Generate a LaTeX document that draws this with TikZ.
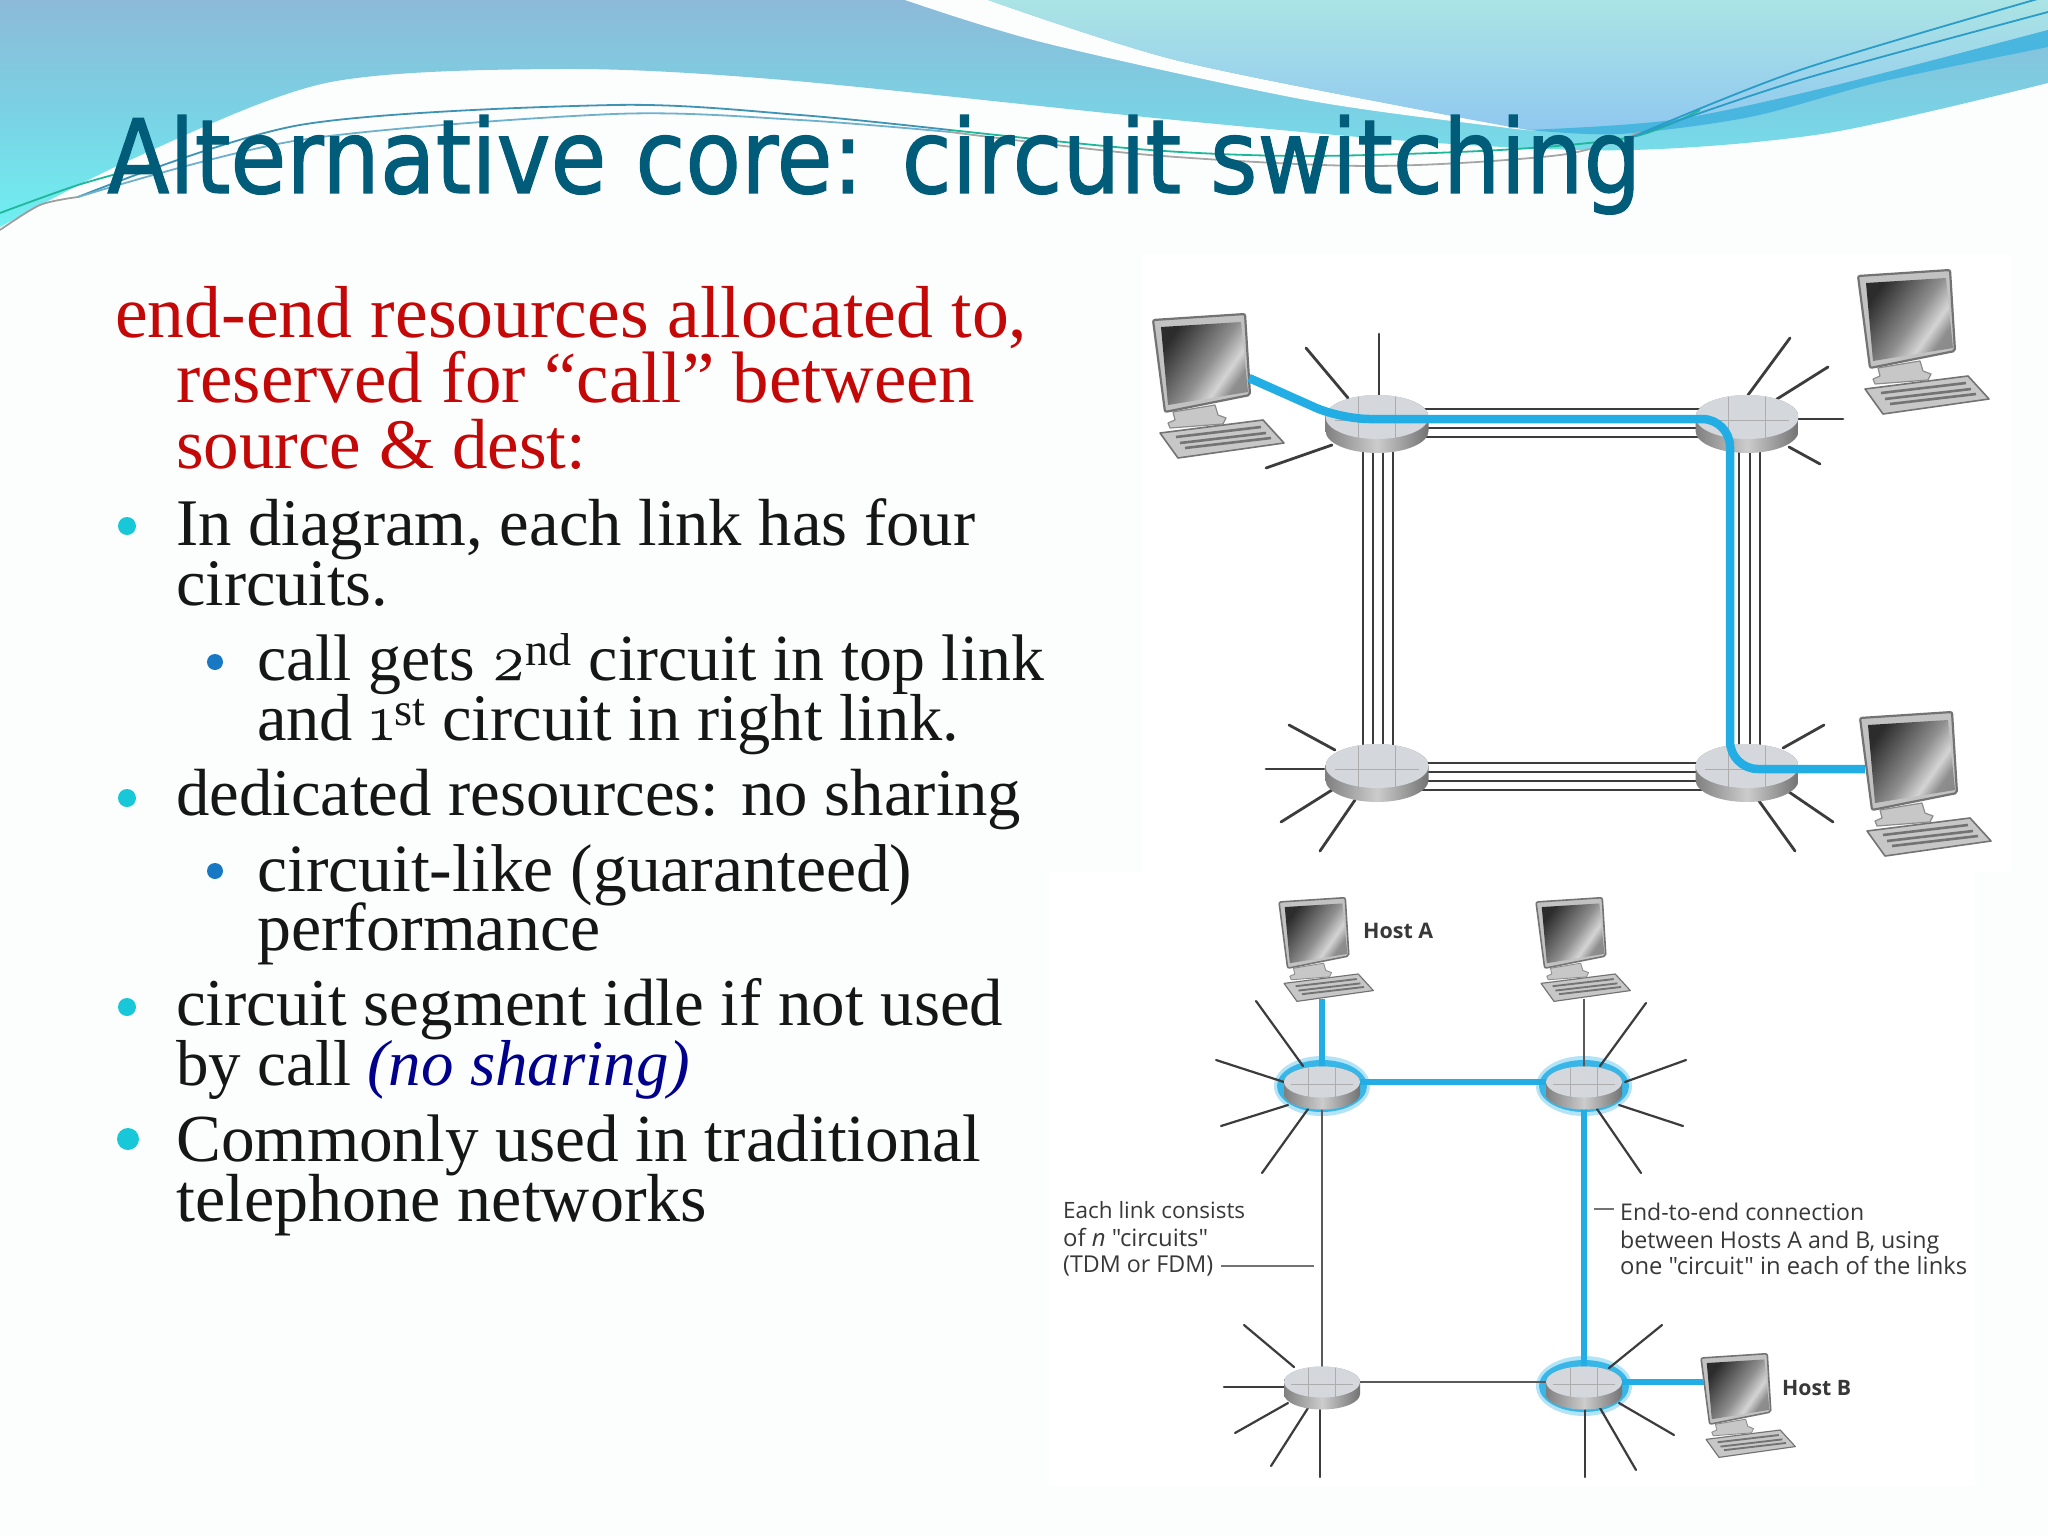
\documentclass[tikz,border=0pt]{standalone}
\usepackage{graphicx}
\usepackage{fontspec}
\setmainfont{Liberation Serif}
\newfontfamily\titlefont[FakeBold=1.2]{DejaVu Sans}
\newfontfamily\labelfont{Open Sans}
\newfontfamily\osf[Numbers=OldStyle,FakeBold=0.5]{Latin Modern Roman}
\definecolor{pagebg}{HTML}{FCFDFD}
\definecolor{waveA}{HTML}{8CBAD8}
\definecolor{waveB}{HTML}{7AD2E4}
\definecolor{waveC}{HTML}{6FF0F2}
\definecolor{paleA}{HTML}{ABE4E4}
\definecolor{paleB}{HTML}{90C8F0}
\definecolor{bandc}{HTML}{48B6DE}
\definecolor{titlec}{HTML}{005C78}
\definecolor{redc}{HTML}{C40808}
\definecolor{bodyc}{HTML}{161616}
\definecolor{bluei}{HTML}{00008C}
\definecolor{bulA}{HTML}{18C8D8}
\definecolor{bulB}{HTML}{1878C4}
\definecolor{netblue}{HTML}{22AEE4}
\definecolor{wirec}{HTML}{3C3C3C}
\definecolor{lineA}{HTML}{3F93B5}
\definecolor{lineB}{HTML}{6FB0CC}
\definecolor{lineG}{HTML}{1DB89A}
\definecolor{lineT}{HTML}{2A9CC8}
\definecolor{facec}{HTML}{D4D8DD}
\definecolor{s1}{HTML}{2C2C2C}
\definecolor{s2}{HTML}{8E8E8E}
\definecolor{s3}{HTML}{D4D4D4}
\definecolor{s4}{HTML}{7C7C7C}
\pgfdeclarehorizontalshading{screenshade}{100bp}{color(0bp)=(s1); color(25bp)=(s1); color(52bp)=(s2); color(64bp)=(s3); color(72bp)=(s2); color(100bp)=(s4)}
\tikzset{
  txt/.style={anchor=base west,inner sep=0pt,font=\fontsize{40}{48}\selectfont},
  lbl/.style={anchor=base west,inner sep=0pt,text=black!78,font=\labelfont\fontsize{20}{24}\selectfont},
  bulletA/.style={circle,fill=bulA,inner sep=0pt,minimum size=18pt},
  bulletB/.style={circle,fill=bulB,inner sep=0pt,minimum size=16pt},
  routerbig/.style={inner sep=0pt,minimum width=103pt,minimum height=44pt},
  routersmall/.style={inner sep=0pt,minimum width=76pt,minimum height=30pt},
  wire/.style={draw=wirec,line width=2.8pt},
  spoke/.style={draw=wirec,line width=2.8pt,line cap=round},
  thinwire/.style={draw=black!65,line width=2.4pt},
  bluewire/.style={draw=netblue,line width=8.5pt,rounded corners=28pt},
  bluelink/.style={draw=netblue,line width=5.5pt},
  leader/.style={draw=black!55,line width=1.3pt},
}
\newcommand{\routerart}[4]{%
  \begin{scope}[shift={(#1)},x=1pt,y=1pt]
    \shade[left color=black!50,right color=black!55,middle color=black!20]
      (-#2,0) -- (-#2,-#4) arc[start angle=180,end angle=360,x radius=#2,y radius=#3]
      -- (#2,0) arc[start angle=0,end angle=180,x radius=#2,y radius=#3] -- cycle;
    \fill[facec] (0,0) ellipse[x radius=#2,y radius=#3];
    \draw[black!32,line width=1pt] (-#2*0.35,-#3*0.92-#4*0.6) -- (-#2*0.35,#3*0.92);
    \draw[black!32,line width=1pt] (#2*0.35,-#3*0.92-#4*0.6) -- (#2*0.35,#3*0.92);
    \draw[black!32,line width=1pt] (-#2*0.82,-#3*0.15) -- (#2*0.82,-#3*0.15);
  \end{scope}}
\newcommand{\halo}[1]{%
  \begin{scope}[shift={(#1)},x=1pt,y=1pt]
    \fill[netblue!35] (0,-4) ellipse[x radius=48,y radius=30];
    \fill[netblue!90] (0,-4) ellipse[x radius=45,y radius=26];
  \end{scope}}
\newcommand{\computerart}[4]{%
  \coordinate (#1) at (#2,#3);
  \begin{scope}[shift={(#1)},x=#4pt,y=-#4pt]
    \filldraw[fill=black!22,draw=black!55,line width=#4*1.6pt,line join=round]
      (7,113) -- (110,100) -- (131,123) -- (25,138) -- cycle;
    \filldraw[fill=black!22,draw=black!45,line width=#4*1.2pt,line join=round]
      (20,92) -- (62,85) -- (65,95) -- (73,98) -- (70,104) -- (17,108) -- (15,103) -- (22,100) -- cycle;
    \filldraw[fill=black!24,draw=black!55,line width=#4*2.2pt,rounded corners=2pt]
      (0,0) -- (92,-6) -- (97,75) -- (12,92) -- cycle;
    \shade[shading=screenshade,shading angle=-35] (8,7) -- (88,2) -- (95,72) -- (15,85) -- cycle;
    \draw[black!55,line width=#4*2.6pt] (23,117) -- (108,107) (27,123) -- (113,113) (32,128) -- (118,118);
  \end{scope}}
\newcommand{\bodyline}[6]{\node[txt,text=#1] (#2) at (#3,#4) {\resizebox{#5pt}{!}{#6}};}
\newcommand{\lblline}[5]{\node[lbl] (#1) at (#2,#3) {\resizebox{#4pt}{!}{#5}};}
\begin{document}
\begin{tikzpicture}[x=1pt,y=-1pt]
\useasboundingbox (0,0) rectangle (2048,1536);
\fill[pagebg] (0,0) rectangle (2048,1536);
% header waves
\shade[top color=waveA,bottom color=waveC,middle color=waveB]
  (0,0) -- (2048,0) -- (2048,83) -- plot[smooth] coordinates {(2048,83) (1828,133) (1632,150) (1436,143) (1175,120) (784,80) (562,69) (326,83) (130,160) (0,227)} -- cycle;
\fill[pagebg] (905,0) -- plot[smooth] coordinates {(905,0) (1045,43) (1306,100) (1500,127) (1540,131)} -- plot[smooth] coordinates {(1540,131) (1437,113) (1175,60) (988,0)} -- cycle;
\shade[top color=paleA,bottom color=paleB]
  (988,0) -- plot[smooth] coordinates {(988,0) (1175,60) (1437,113) (1528,130)} -- plot[smooth] coordinates {(1528,130) (1672,120) (1828,87) (2048,30)} -- (2048,0) -- cycle;
\fill[bandc] (1528,130) -- plot[smooth] coordinates {(1528,130) (1672,120) (1828,87) (2048,30)} -- (2048,47) -- plot[smooth] coordinates {(2048,47) (1880,82) (1750,117) (1620,134) (1528,130)} -- cycle;
\begin{scope}[line width=1.8pt]
\draw[lineA] plot[smooth] coordinates {(78,197) (300,125) (614,105) (800,115) (950,130)};
\draw[lineB] plot[smooth] coordinates {(78,197) (300,140) (614,114) (800,120) (950,132)};
\draw[black!38] plot[smooth] coordinates {(0,230) (40,205) (78,197)};
\draw[black!35] plot[smooth] coordinates {(950,132) (1150,155) (1371,166) (1560,155) (1640,132)};
\draw[lineG] plot[smooth] coordinates {(0,213) (78,185) (150,165)};
\draw[lineG] plot[smooth] coordinates {(950,130) (1150,150) (1306,156) (1500,150) (1632,137) (1700,110)};
\draw[lineT] plot[smooth] coordinates {(1632,137) (1800,70) (2048,-4)};
\draw[lineT] plot[smooth] coordinates {(1632,137) (1800,80) (2048,12)};
\end{scope}
\node[anchor=base west,inner sep=0pt,text=titlec,font=\titlefont\fontsize{80}{96}\selectfont] (title) at (107,193) {\resizebox{1534pt}{78pt}{Alternative core: circuit switching}};
% body text
\bodyline{redc}{t1}{115}{337}{912}{end-end resources allocated to,}
\bodyline{redc}{t2}{176}{402}{799}{reserved for “call” between}
\bodyline{redc}{t3}{176}{468}{410}{source \& dest:}
\bodyline{bodyc}{t4}{176}{545}{799}{In diagram, each link has four}
\bodyline{bodyc}{t5}{176}{605}{212}{circuits.}
\bodyline{bodyc}{t6}{257}{680}{787}{call gets {\osf 2}\textsuperscript{nd} circuit in top link}
\bodyline{bodyc}{t7}{257}{740}{702}{and {\osf 1}\textsuperscript{st} circuit in right link.}
\bodyline{bodyc}{t8}{176}{815}{845}{dedicated resources: no sharing}
\bodyline{bodyc}{t9}{257}{891}{655}{circuit-like (guaranteed)}
\bodyline{bodyc}{t10}{257}{950}{343}{performance}
\bodyline{bodyc}{t11}{176}{1025}{827}{circuit segment idle if not used}
\bodyline{bodyc}{t12}{176}{1085}{514}{by call \textcolor{bluei}{\textit{(no sharing)}}}
\bodyline{bodyc}{t13}{176}{1161}{805}{Commonly used in traditional}
\bodyline{bodyc}{t14}{176}{1221}{531}{telephone networks}
\node[bulletA] (b1) at (127,526) {};
\node[bulletB] (b2) at (215,662) {};
\node[bulletA] (b3) at (127,798) {};
\node[bulletB] (b4) at (215,871) {};
\node[bulletA] (b5) at (127,1007) {};
\node[bulletA,minimum size=22pt] (b6) at (128,1139) {};
% picture panels
\fill[white] (1143,255) rectangle (2011,872);
\fill[white] (1049,872) rectangle (1975,1486);
% ---- diagram 1
\node[routerbig] (tl) at (1377,417) {};
\node[routerbig] (tr) at (1747,417) {};
\node[routerbig] (bl) at (1377,766) {};
\node[routerbig] (br) at (1747,766) {};
\foreach \o in {8,-1,-11,-20} \draw[wire] ([yshift=\o pt]tl.center) -- ([yshift=\o pt]tr.center);
\foreach \o in {-3,6,15,24} \draw[wire] ([yshift=-\o pt]bl.center) -- ([yshift=-\o pt]br.center);
\foreach \o in {-14,-4,6,16} \draw[wire] ([xshift=\o pt]tl.center) -- ([xshift=\o pt]bl.center);
\foreach \o in {-18,-8,3,13} \draw[wire] ([xshift=\o pt]tr.center) -- ([xshift=\o pt]br.center);
\foreach \x/\y/\c/\d in {1306/348/-29/-19,1379/334/2/-22,1266/468/-45/28}
  \draw[spoke] (\x,\y) -- ([shift={(\c,\d)}]tl.center);
\foreach \x/\y/\c/\d in {1790/338/1/-22,1828/367/30/-18,1843/419/50/2,1820/464/42/30}
  \draw[spoke] (\x,\y) -- ([shift={(\c,\d)}]tr.center);
\foreach \x/\y/\c/\d in {1289/725/-42/-16,1266/769/-53/3,1281/822/-45/24,1320/851/-22/34}
  \draw[spoke] (\x,\y) -- ([shift={(\c,\d)}]bl.center);
\foreach \x/\y/\c/\d in {1824/725/36/-18,1833/822/42/26,1795/851/12/35}
  \draw[spoke] (\x,\y) -- ([shift={(\c,\d)}]br.center);
\routerart{tl}{51.5}{22}{14}
\routerart{tr}{51.5}{22}{14}
\routerart{bl}{51.5}{22}{14}
\routerart{br}{51.5}{22}{14}
\computerart{c1}{1153}{320}{1}
\computerart{c2}{1858}{276}{1}
\computerart{c3}{1860}{718}{1}
\coordinate (p1) at ([shift={(96,58)}]c1);
\coordinate (p3) at ([shift={(5,51)}]c3);
\coordinate (k1) at (1341,419);
\draw[bluewire] (p1) -- (k1) -- (1730,419) -- (1730,769) -- (p3);
% ---- diagram 2
\node[routersmall] (tl2) at (1322,1082) {};
\node[routersmall] (tr2) at (1584,1082) {};
\node[routersmall] (bl2) at (1322,1382) {};
\node[routersmall] (br2) at (1584,1382) {};
\halo{tl2}
\halo{tr2}
\halo{br2}
\draw[thinwire] (tl2) -- (bl2);
\draw[thinwire] (bl2) -- (br2);
\draw[bluelink] (tl2) -- (tr2);
\draw[bluelink] (tr2) -- (br2);
\computerart{ha}{1279}{902}{0.72}
\computerart{hm}{1536}{902}{0.72}
\computerart{hb}{1701}{1358}{0.72}
\coordinate (hap) at ([shift={(43,97)}]ha);
\coordinate (hmp) at ([shift={(48,97)}]hm);
\coordinate (hbp) at ([shift={(3,28)}]hb);
\draw[bluelink] (hap) -- (hap |- tl2);
\draw[thinwire] (hmp) -- (hmp |- tr2);
\draw[bluelink] (br2) -- (hbp |- br2);
\foreach \x/\y/\c/\d in {1256/1001/-19/-16,1216/1060/-38/0,1221/1126/-34/23,1262/1173/-14/27}
  \draw[spoke,line width=2.2pt] (\x,\y) -- ([shift={(\c,\d)}]tl2.center);
\foreach \x/\y/\c/\d in {1646/1003/16/-16,1686/1060/41/0,1683/1126/35/23,1641/1173/13/27}
  \draw[spoke,line width=2.2pt] (\x,\y) -- ([shift={(\c,\d)}]tr2.center);
\foreach \x/\y/\c/\d in {1244/1325/-28/-15,1224/1387/-38/5,1235/1433/-34/21,1271/1466/-14/26,1320/1477/-2/28}
  \draw[spoke,line width=2.2pt] (\x,\y) -- ([shift={(\c,\d)}]bl2.center);
\foreach \x/\y/\c/\d in {1662/1325/25/-14,1674/1435/35/21,1636/1470/16/26,1585/1477/1/28}
  \draw[spoke,line width=2.2pt] (\x,\y) -- ([shift={(\c,\d)}]br2.center);
\routerart{tl2}{38}{15.5}{12}
\routerart{tr2}{38}{15.5}{12}
\routerart{bl2}{38}{15.5}{12}
\routerart{br2}{38}{15.5}{12}
% labels
\lblline{la}{1363}{938}{70}{\textbf{Host A}}
\lblline{lb}{1782}{1395}{69}{\textbf{Host B}}
\lblline{l1}{1063}{1218}{182}{Each link consists}
\lblline{l2}{1063}{1246}{145}{of \textit{n} "circuits"}
\lblline{l3}{1063}{1272}{150}{(TDM or FDM)}
\lblline{r1}{1620}{1220}{244}{End-to-end connection}
\lblline{r2}{1620}{1248}{319}{between Hosts A and B, using}
\lblline{r3}{1620}{1274}{347}{one "circuit" in each of the links}
\coordinate (lead1) at (l3.east |- 0,1266);
\draw[leader] ([xshift=8pt]lead1) -- (1314,1266);
\draw[leader] (1594,1209) -- (1614,1209);
\end{tikzpicture}
\end{document}
